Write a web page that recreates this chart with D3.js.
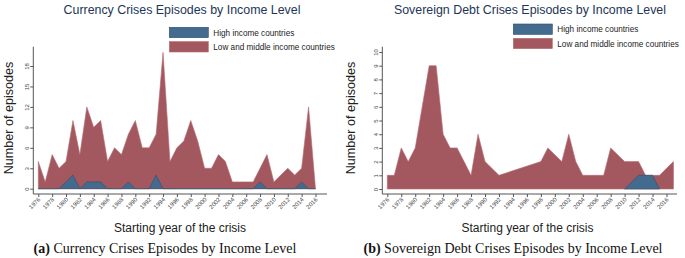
<!DOCTYPE html>
<html>
<head>
<meta charset="utf-8">
<script src="https://cdn.jsdelivr.net/npm/d3@7"></script>
<style>
  body { margin: 0; background: #fff; }
  svg text { font-family: "Liberation Sans", Arial, sans-serif; }
</style>
</head>
<body>
<svg id="chart" width="685" height="258"></svg>
<script>
// x tick labels shared by both panels
const yearTicks = [1976, 1978, 1980, 1982, 1984, 1986, 1988, 1990, 1992, 1994, 1996,
  1998, 2000, 2002, 2004, 2006, 2008, 2010, 2012, 2014, 2016];

// (a) currency crises, one value per year
const currencyYears = [1976, 1977, 1978, 1979, 1980, 1981, 1982, 1983, 1984, 1985,
  1986, 1987, 1988, 1989, 1990, 1991, 1992, 1993, 1994, 1995, 1996, 1997, 1998,
  1999, 2000, 2001, 2002, 2003, 2004, 2005, 2006, 2007, 2008, 2009, 2010, 2011,
  2012, 2013, 2014, 2015, 2016];
const currencyLow = [4, 1, 5, 3, 4, 10, 5, 12, 9, 10, 4, 6, 5, 8, 10, 6, 6, 8, 20, 4,
  6, 7, 10, 7, 3, 3, 5, 4, 1, 1, 1, 1, 3, 5, 1, 2, 3, 2, 3, 12, 0];
const currencyHigh = [0, 0, 0, 0, 1, 2, 0, 1, 1, 1, 0, 0, 0, 1, 0, 0, 0, 2, 0, 0,
  0, 0, 0, 0, 0, 0, 0, 0, 0, 0, 0, 0, 1, 0, 0, 0, 0, 0, 1, 0, 0];
const currencyYTicks = [0, 3, 6, 9, 12, 15, 18];

// (b) sovereign debt crises, only the years present in the data
const debtLowYears = [1976, 1977, 1978, 1979, 1980, 1981, 1982, 1983, 1984, 1985,
  1986, 1987, 1988, 1989, 1990, 1992, 1998, 1999, 2001, 2002, 2003, 2004, 2005,
  2006, 2007, 2008, 2010, 2011, 2012, 2013, 2014, 2015, 2017];
const debtLow = [1, 1, 3, 2, 3, 6, 9, 9, 4, 3, 3, 2, 1, 4, 2, 1, 2, 3, 2, 4, 2, 1, 1,
  1, 1, 3, 2, 2, 2, 1, 1, 1, 2];
const debtHighYears = [2010, 2012, 2013, 2014, 2015];
const debtHigh = [0, 1, 1, 1, 0];
const debtYTicks = [0, 1, 2, 3, 4, 5, 6, 7, 8, 9, 10];

const seriesNames = ["High income countries", "Low and middle income countries"];
const colors = { high: "#436b8e", low: "#a3585f" };

const svg = d3.select("#chart");

function panel(cfg) {
  const g = svg.append("g");
  const x = d3.scaleLinear().domain([1976, 2016]).range(cfg.xRange);
  const y = d3.scaleLinear().domain([0, cfg.yTop]).range([cfg.y0, cfg.yTopPx]);

  // title
  g.append("text")
    .attr("x", cfg.titleX).attr("y", 14)
    .attr("text-anchor", "middle")
    .attr("font-size", 12.4)
    .attr("fill", "#1d3557")
    .text(cfg.title);

  // areas: low and middle first, high on top
  const low = cfg.lowYears.map((yr, i) => ({ yr, v: cfg.low[i] }));
  const high = cfg.highYears.map((yr, i) => ({ yr, v: cfg.high[i] }));
  const area = d3.area().x(d => x(d.yr)).y0(y(0)).y1(d => y(d.v));

  g.append("path").datum(low)
    .attr("d", area)
    .attr("fill", colors.low)
    .attr("stroke", "#b56d73")
    .attr("stroke-width", 0.6);

  g.append("path").datum(high)
    .attr("d", area)
    .attr("fill", colors.high)
    .attr("stroke", "#2d4c6b")
    .attr("stroke-width", 0.7)
    .attr("stroke-opacity", 0.8);

  // y axis, labels turned to read upwards
  const yAxis = g.append("g")
    .attr("transform", `translate(${cfg.axisX},0)`)
    .call(d3.axisLeft(y).tickValues(cfg.yTicks).tickSize(3));
  yAxis.select(".domain").attr("d", `M0,${cfg.axisTop}V${cfg.axisY}`);
  yAxis.selectAll("line, .domain").attr("stroke", "#555");
  yAxis.selectAll("text")
    .attr("font-size", 6)
    .attr("fill", "#444")
    .attr("text-anchor", "middle")
    .attr("transform", "rotate(-90)")
    .attr("x", 0)
    .attr("y", -4.5)
    .attr("dy", 0);

  // x axis
  const xAxis = g.append("g")
    .attr("transform", `translate(0,${cfg.axisY})`)
    .call(d3.axisBottom(x).tickValues(yearTicks).tickFormat(d3.format("d")).tickSize(3));
  xAxis.select(".domain").attr("d", `M${cfg.axisX},0H${cfg.axisRight}`);
  xAxis.selectAll("line, .domain").attr("stroke", "#555");
  xAxis.selectAll("text")
    .attr("font-size", 6)
    .attr("fill", "#444")
    .attr("text-anchor", "end")
    .attr("y", 0).attr("dy", 0)
    .attr("transform", "translate(2,6) rotate(-45)");

  // axis titles
  g.append("text")
    .attr("transform", `translate(${cfg.yTitleX},118) rotate(-90)`)
    .attr("text-anchor", "middle")
    .attr("font-size", 12.6)
    .attr("fill", "#222")
    .text("Number of episodes");

  g.append("text")
    .attr("x", cfg.xTitleX).attr("y", 232)
    .attr("text-anchor", "middle")
    .attr("font-size", 12)
    .attr("fill", "#222")
    .text("Starting year of the crisis");

  // legend
  const leg = g.selectAll(".leg").data(seriesNames).join("g")
    .attr("transform", (d, i) => `translate(${cfg.legX},${cfg.legY + i * 14.3})`);
  leg.append("rect")
    .attr("width", 39).attr("height", 10.4)
    .attr("fill", (d, i) => i === 0 ? colors.high : colors.low)
    .attr("stroke", (d, i) => i === 0 ? "#2d4c6b" : "#b56d73")
    .attr("stroke-width", 0.6);
  leg.append("text")
    .attr("x", 44).attr("y", 8.3)
    .attr("font-size", 8.2)
    .attr("fill", "#222")
    .text(d => d);

  // caption
  const cap = g.append("text")
    .attr("x", cfg.capX).attr("y", 253)
    .attr("text-anchor", "middle")
    .attr("font-size", 14)
    .style("font-family", '"Liberation Serif", "Times New Roman", serif')
    .attr("fill", "#111");
  cap.append("tspan").attr("font-weight", "bold").text(cfg.capTag);
  cap.append("tspan").text(" " + cfg.title);
}

panel({
  title: "Currency Crises Episodes by Income Level",
  capTag: "(a)",
  titleX: 182, xTitleX: 180, capX: 165, yTitleX: 12.5,
  xRange: [38.3, 315.5],
  yTop: 18, y0: 188.7, yTopPx: 66,
  axisX: 33.3, axisY: 194, axisTop: 46.7, axisRight: 327,
  yTicks: currencyYTicks,
  lowYears: currencyYears, low: currencyLow,
  highYears: currencyYears, high: currencyHigh,
  legX: 169.3, legY: 27.3
});

panel({
  title: "Sovereign Debt Crises Episodes by Income Level",
  capTag: "(b)",
  titleX: 530, xTitleX: 527.5, capX: 513, yTitleX: 355,
  xRange: [387.3, 666.5],
  yTop: 10, y0: 189, yTopPx: 52,
  axisX: 382.3, axisY: 194, axisTop: 46.7, axisRight: 677,
  yTicks: debtYTicks,
  lowYears: debtLowYears, low: debtLow,
  highYears: debtHighYears, high: debtHigh,
  legX: 513.3, legY: 24
});
</script>
</body>
</html>
